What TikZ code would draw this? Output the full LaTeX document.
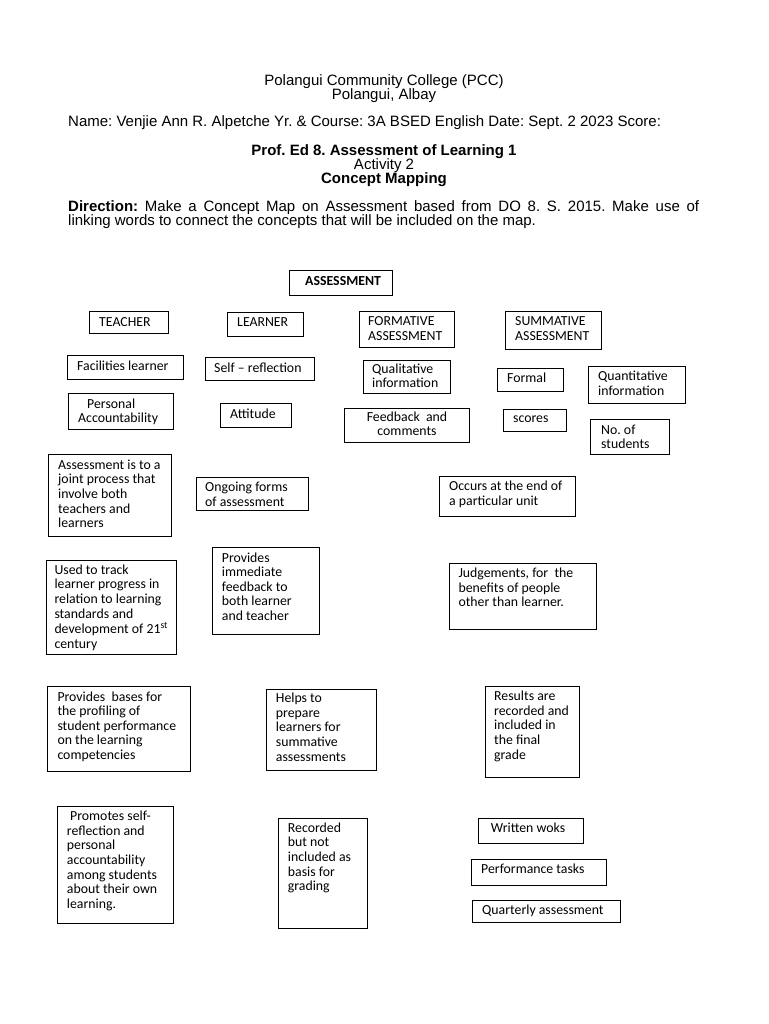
\documentclass[tikz,border=0pt]{standalone}
\usepackage{fontspec}
\setmainfont{Liberation Sans}
\newfontfamily\calib{Carlito}
\frenchspacing
\tikzset{
  cbox/.style={draw=black, line width=0.9pt, inner sep=0pt, anchor=north west},
  ctext/.style={inner sep=0pt, anchor=base west, font=\calib\fontsize{13.8}{14.6}\selectfont},
  hdr/.style={inner sep=0pt, font=\fontsize{15}{14}\selectfont},
}
\newcommand\cmap[8]{%
  \node[cbox, minimum width={(#4-#2)*1pt}, minimum height={(#5-#3)*1pt}] (#1) at (#2,#3) {};
  \node[ctext] (#1-t) at (#6,#7) {\begin{tabular}[t]{@{}l@{}}#8\end{tabular}};
}
\begin{document}
\begin{tikzpicture}[x=1pt,y=-1pt]
\useasboundingbox (0,0) rectangle (768,1024);
\fill[white] (0,0) rectangle (768,1024);
% header
\node[hdr, anchor=base] (college) at (384,86) {Polangui Community College (PCC)};
\node[hdr, anchor=base] (albay) at (384,99.5) {Polangui, Albay};
\node[hdr, anchor=base west] (name) at (68,127) {Name: Venjie Ann R. Alpetche Yr. \& Course: 3A BSED English Date: Sept. 2 2023 Score:};
\node[hdr, anchor=base] (course) at (384,155.5) {\bfseries Prof. Ed 8. Assessment of Learning 1};
\node[hdr, anchor=base] (activity) at (384,169.5) {Activity 2};
\node[hdr, anchor=base] (mapping) at (384,183.5) {\bfseries Concept Mapping};
\node[hdr, anchor=base west] (dir1) at (68,211.5) {\makebox[631pt][s]{\textbf{Direction:} Make a Concept Map on Assessment based from DO 8. S. 2015. Make use of}};
\node[hdr, anchor=base west] (dir2) at (68,225.5) {linking words to connect the concepts that will be included on the map.};
% boxes
\cmap{assess}{289}{270}{392}{295}{305}{285}{\textbf{ASSESSMENT}}
\cmap{teacher}{89}{311}{168}{333}{99}{326.7}{TEACHER}
\cmap{learner}{227}{312}{303}{336}{237}{326.7}{LEARNER}
\cmap{formative}{359}{311}{454}{347}{368}{325.7}{FORMATIVE\\ASSESSMENT}
\cmap{summative}{505}{311}{601}{349}{515}{325.7}{SUMMATIVE\\ASSESSMENT}
\cmap{facil}{67}{355}{183}{379}{77}{370.7}{Facilities learner}
\cmap{selfref}{205}{357}{314}{380}{214}{372}{Self – reflection}
\cmap{qualit}{363}{360}{450}{393}{372}{373.3}{Qualitative\\information}
\cmap{formal}{497}{368}{563}{391}{507}{382}{Formal}
\cmap{quantit}{588}{366}{685}{403}{598}{380.7}{Quantitative\\information}
\cmap{personal}{68}{393}{173}{429}{78}{408.3}{\hspace{9pt}Personal\\Accountability}
\cmap{attitude}{220}{403}{291}{427}{230}{418}{Attitude}
\node[cbox, minimum width=125pt, minimum height=34pt] (feedback) at (344,408) {};
\node[ctext, anchor=base] (feedback-t) at (407,421.3) {\begin{tabular}[t]{@{}c@{}}Feedback\ \ and\\comments\end{tabular}};
\cmap{scores}{503}{409}{566}{431}{513}{422.7}{scores}
\cmap{nostud}{590}{419}{669}{454}{601}{434}{No. of\\students}
\cmap{joint}{48}{454}{171}{536}{58}{469.3}{Assessment is to a\\joint process that\\involve both\\teachers and\\learners}
\cmap{ongoing}{196}{477}{308}{510}{205}{491.7}{Ongoing forms\\of assessment}
\cmap{occurs}{439}{476}{575}{516}{449}{490.7}{Occurs at the end of\\a particular unit}
\cmap{track}{46}{560}{176}{654}{54.3}{574.3}{Used to track\\learner progress in\\relation to learning\\standards and\\development of 21\textsuperscript{st}\\century}
\cmap{immediate}{212}{547}{319}{634}{221.7}{562}{Provides\\immediate\\feedback to\\both learner\\and teacher}
\cmap{judge}{449}{563}{596}{629}{458.3}{577.7}{Judgements, for\ \ the\\benefits of people\\other than learner.}
\cmap{bases}{47}{686}{190}{771}{57.3}{701}{Provides\ \ bases for\\the profiling of\\student performance\\on the learning\\competencies}
\cmap{helps}{266}{689}{376}{770}{275.7}{702.7}{Helps to\\prepare\\learners for\\summative\\assessments}
\cmap{results}{485}{686}{579}{777}{494}{700.7}{Results are\\recorded and\\included in\\the final\\grade}
\cmap{promotes}{57}{806}{173}{923}{66.7}{820.7}{\hspace{3.3pt}Promotes self-\\reflection and\\personal\\accountability\\among students\\about their own\\learning.}
\cmap{recorded}{278}{818}{367}{928}{287.7}{832.3}{Recorded\\but not\\included as\\basis for\\grading}
\cmap{written}{478}{818}{583}{843}{490.7}{832.3}{Written woks}
\cmap{perf}{471}{859}{606}{885}{481}{873.3}{Performance tasks}
\cmap{quarterly}{472}{900}{620}{922}{482}{914.3}{Quarterly assessment}
\end{tikzpicture}
\end{document}
